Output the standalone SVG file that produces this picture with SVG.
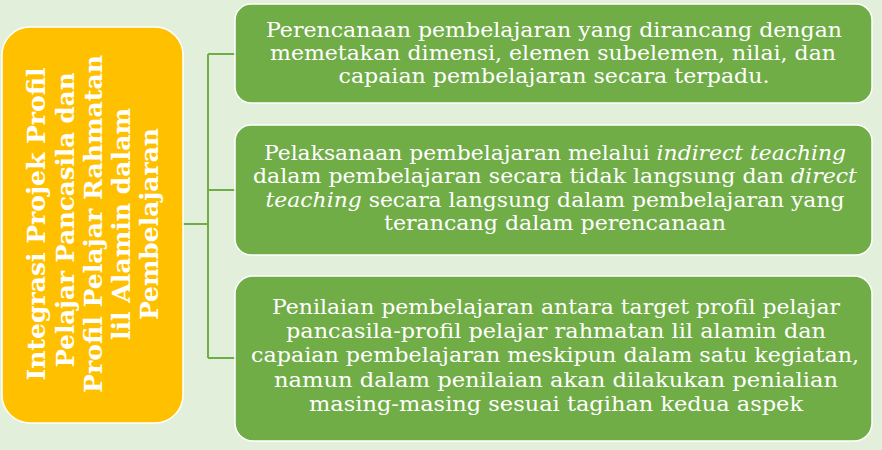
<svg xmlns="http://www.w3.org/2000/svg" width="882" height="450" viewBox="0 0 882 450">
<style>
.box{fill:#70AD47;stroke:#FFFFFF;stroke-width:1.5}
.main{fill:#FFC000;stroke:#FFFFFF;stroke-width:1.5}
.t{font-family:"DejaVu Serif","Liberation Serif",serif;font-size:20.5px;fill:#FFFFFF;text-anchor:middle}
.m{font-family:"DejaVu Serif","Liberation Serif",serif;font-size:25px;font-weight:bold;fill:#FFFFFF;text-anchor:middle}
.conn{fill:none;stroke:#70AD47;stroke-width:2}
.i{font-style:italic}
</style>
<rect x="0" y="0" width="882" height="450" fill="#E2EFDA"/>
<g id="connectors">
<path class="conn" d="M183 224 H208 M208 54 V358 M208 54 H235 M208 190 H235 M208 358 H235"/>
</g>
<g id="main">
<rect class="main" x="2" y="27" width="181" height="396" rx="28"/>
<text class="m" transform="translate(45,224) rotate(-90)" textLength="313" lengthAdjust="spacingAndGlyphs">Integrasi Projek Profil</text>
<text class="m" transform="translate(74,220) rotate(-90)" textLength="295" lengthAdjust="spacingAndGlyphs">Pelajar Pancasila dan</text>
<text class="m" transform="translate(102,224) rotate(-90)" textLength="338" lengthAdjust="spacingAndGlyphs">Profil Pelajar Rahmatan</text>
<text class="m" transform="translate(130,224) rotate(-90)" textLength="232" lengthAdjust="spacingAndGlyphs">lil Alamin dalam</text>
<text class="m" transform="translate(158,224) rotate(-90)" textLength="192" lengthAdjust="spacingAndGlyphs">Pembelajaran</text>
</g>
<g id="node1">
<rect class="box" x="235" y="4" width="637" height="99" rx="16"/>
<text class="t" x="554" y="37" textLength="576" lengthAdjust="spacingAndGlyphs">Perencanaan pembelajaran yang dirancang dengan</text>
<text class="t" x="553" y="60" textLength="566" lengthAdjust="spacingAndGlyphs">memetakan dimensi, elemen subelemen, nilai, dan</text>
<text class="t" x="554" y="83" textLength="431" lengthAdjust="spacingAndGlyphs">capaian pembelajaran secara terpadu.</text>
</g>
<g id="node2">
<rect class="box" x="235" y="125" width="637" height="130" rx="16"/>
<text class="t" x="555" y="160" textLength="582" lengthAdjust="spacingAndGlyphs">Pelaksanaan pembelajaran melalui <tspan class="i">indirect teaching</tspan></text>
<text class="t" x="555" y="183" textLength="604" lengthAdjust="spacingAndGlyphs">dalam pembelajaran secara tidak langsung dan <tspan class="i">direct</tspan></text>
<text class="t" x="555" y="207" textLength="579" lengthAdjust="spacingAndGlyphs"><tspan class="i">teaching</tspan> secara langsung dalam pembelajaran yang</text>
<text class="t" x="555" y="230" textLength="342" lengthAdjust="spacingAndGlyphs">terancang dalam perencanaan</text>
</g>
<g id="node3">
<rect class="box" x="235" y="276" width="637" height="165" rx="18"/>
<text class="t" x="556" y="314" textLength="568" lengthAdjust="spacingAndGlyphs">Penilaian pembelajaran antara target profil pelajar</text>
<text class="t" x="556" y="338" textLength="540" lengthAdjust="spacingAndGlyphs">pancasila-profil pelajar rahmatan lil alamin dan</text>
<text class="t" x="555" y="362" textLength="608" lengthAdjust="spacingAndGlyphs">capaian pembelajaran meskipun dalam satu kegiatan,</text>
<text class="t" x="556" y="387" textLength="564" lengthAdjust="spacingAndGlyphs">namun dalam penilaian akan dilakukan penialian</text>
<text class="t" x="556" y="411" textLength="494" lengthAdjust="spacingAndGlyphs">masing-masing sesuai tagihan kedua aspek</text>
</g>
</svg>
